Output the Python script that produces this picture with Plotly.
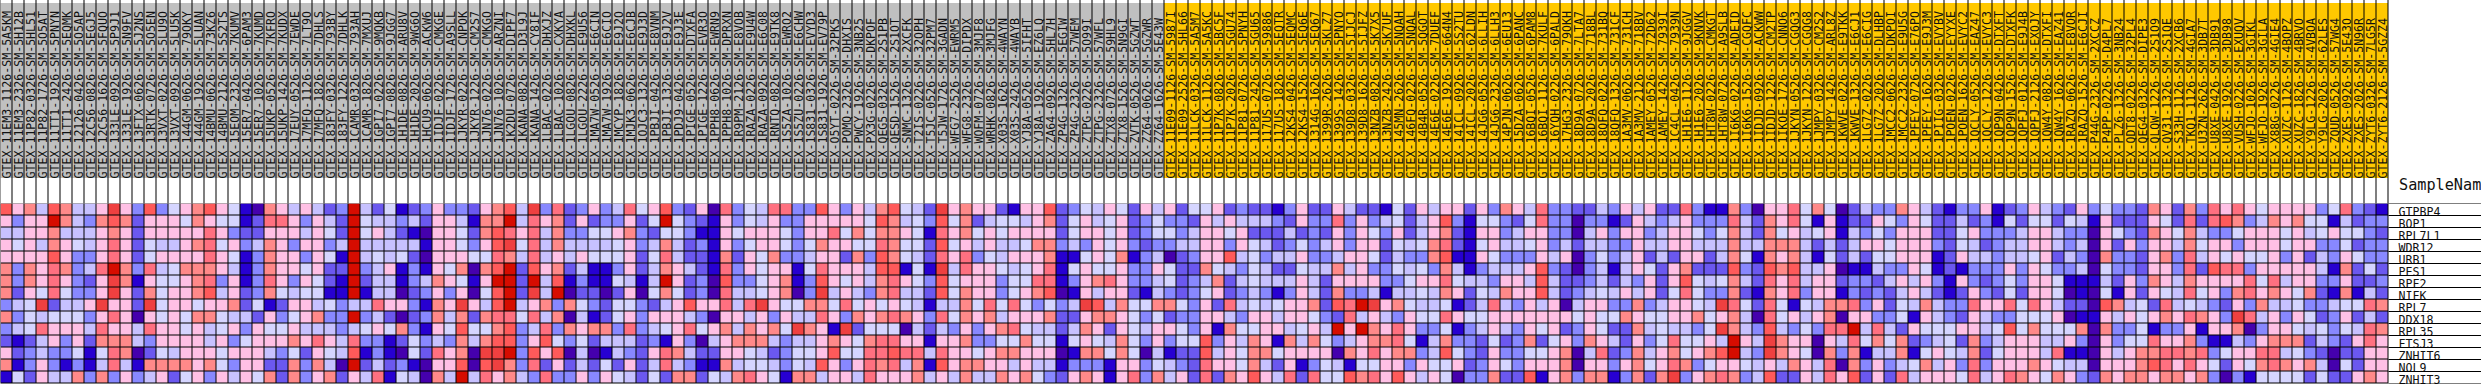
import plotly.graph_objects as go

WIDTH, HEIGHT = 2481, 384

genes = ["GTPBP4","BOP1","RPL7L1","WDR12","URB1","PES1","RPF2","NIFK","RPL7","DDX18","RPL35","FTSJ3","ZNHIT6","NOL9","ZNHIT3"]

samples_control = """GTEX-11EM3-1126-SM-5A5KM GTEX-11EM3-2326-SM-5H12B GTEX-11P82-0326-SM-5HL51 GTEX-11P82-1726-SM-5O5AT GTEX-11TT1-1926-SM-5PNYN GTEX-11TT1-2426-SM-5EQMK GTEX-12126-0426-SM-5O5AP GTEX-12C56-0826-SM-5EGJ5 GTEX-12C56-1626-SM-5FQUO GTEX-133LE-0926-SM-5P9J1 GTEX-133LE-1926-SM-5N9FV GTEX-13FTX-0626-SM-5J2NS GTEX-13RTK-0726-SM-5O5EN GTEX-13VXT-0226-SM-5LU9O GTEX-13VXT-0926-SM-5LU5K GTEX-144GM-0626-SM-79OKY GTEX-144GM-1926-SM-5LUAN GTEX-14BMU-0626-SM-73KZ6 GTEX-14BMU-2126-SM-5S2TS GTEX-15EOM-2326-SM-7KUMV GTEX-15ER7-0426-SM-6PAM3 GTEX-15ER7-1026-SM-7KUMD GTEX-15UKP-0526-SM-7KFRO GTEX-15UKP-1426-SM-7KUDX GTEX-17EUY-0526-SM-7EWDE GTEX-17MFQ-1126-SM-7LT9O GTEX-17MFQ-1826-SM-7DHLS GTEX-183FY-0326-SM-793BY GTEX-183FY-1226-SM-7DHLK GTEX-1CAMR-0326-SM-793AH GTEX-1CAMR-1826-SM-7MXUJ GTEX-1GPI7-0226-SM-9MQKB GTEX-1GPI7-0826-SM-9JGG7 GTEX-1H1DE-0826-SM-ARU8V GTEX-1H1DE-2026-SM-9WG6O
GTEX-1HCU9-0626-SM-ACKW6 GTEX-1IDJF-0226-SM-CMKGE GTEX-1IDJF-1726-SM-A9SLL GTEX-1JKYR-0226-SM-CNPOK GTEX-1JKYR-1226-SM-CM2S7 GTEX-1JN76-0226-SM-CMKGO GTEX-1JN76-1026-SM-ARZNI GTEX-1K2DU-0726-SM-DIPF7 GTEX-1KANA-0826-SM-D3L9J GTEX-1KANA-1426-SM-CY8IF GTEX-1LBAC-0226-SM-DHXJZ GTEX-1LBAC-1026-SM-CXKYA GTEX-1LGOU-0826-SM-DHXKL GTEX-1LGOU-2226-SM-E9U56 GTEX-1MA7W-0526-SM-E6CIN GTEX-1MA7W-1926-SM-E6CIO GTEX-1MCYP-1826-SM-E9J2O GTEX-1MJK3-0626-SM-E6CJB GTEX-1OJC3-1326-SM-E9J3D GTEX-1PBJI-0426-SM-E8VNM GTEX-1PBJI-1326-SM-E9J2V GTEX-1PDJ9-0426-SM-E9J3E GTEX-1PIGE-0526-SM-DTXFA GTEX-1PIGE-1226-SM-EVR3O GTEX-1PPH8-0626-SM-EWRN9 GTEX-1PPH8-1026-SM-DPRXN GTEX-1R9PM-2126-SM-E8VOB GTEX-1RAZA-0226-SM-E9U4W GTEX-1RAZA-0926-SM-E6C08 GTEX-1RNTQ-0826-SM-E9TK8 GTEX-1S5ZA-1026-SM-EWRO2 GTEX-1S5ZU-0226-SM-E6CHW GTEX-1S831-0326-SM-EVYD3 GTEX-1S831-1926-SM-EV79P GTEX-O5YT-0226-SM-32PK5
GTEX-POMQ-2326-SM-DHXIS GTEX-PWCY-1926-SM-3NB25 GTEX-PX3G-0226-SM-DKPOF GTEX-QEG5-0326-SM-2S1PB GTEX-QESD-1526-SM-2S1OT GTEX-SNMC-1326-SM-2XCFK GTEX-T2IS-0226-SM-32OPH GTEX-T5JC-0526-SM-32PM7 GTEX-T5JW-1726-SM-3GADN GTEX-WFG7-2526-SM-EWRM5 GTEX-WFG8-2326-SM-DIPDX GTEX-WOFM-0726-SM-3MJF8 GTEX-WRHK-0826-SM-3MJFG GTEX-X03S-1626-SM-4WAYN GTEX-X03S-2426-SM-4WAYB GTEX-YJ8A-0526-SM-5IFHT GTEX-YJ8A-1926-SM-EZ6LQ GTEX-ZA64-0926-SM-5HL7H GTEX-ZP4G-1326-SM-5EGIW GTEX-ZP4G-2326-SM-57WEM GTEX-ZTPG-0226-SM-5O99I GTEX-ZTPG-2326-SM-57WFL GTEX-ZTX8-0726-SM-59HL9 GTEX-ZTX8-1526-SM-5N9GI GTEX-ZVTK-0526-SM-5GZWT GTEX-ZZ64-0626-SM-5GZWR GTEX-ZZ64-1626-SM-5E43W""".split()

samples_case = """GTEX-11E09-1126-SM-5987I GTEX-11E09-2526-SM-5HL66 GTEX-11LCK-0326-SM-5A5M7 GTEX-11LCK-1126-SM-5A5KC GTEX-11P7K-0826-SM-5BC5F GTEX-11P7K-2026-SM-5GU74 GTEX-11P81-0726-SM-5PNYH GTEX-11P81-2426-SM-5GU65
GTEX-117US-0726-SM-59886 GTEX-117US-1826-SM-5EQTR GTEX-12KS4-0426-SM-5EQMC GTEX-12KS4-1526-SM-5EQ6E GTEX-1314G-1626-SM-5EQ67 GTEX-1399R-2626-SM-5KLZ7 GTEX-1399S-1426-SM-5PNYO GTEX-139D8-0326-SM-5IJCJ GTEX-139D8-1626-SM-5IJFZ GTEX-13NZB-0826-SM-5K7X5 GTEX-13NZB-2426-SM-5K7UF GTEX-145MN-2626-SM-5NQAH GTEX-146FQ-0226-SM-5NQAL GTEX-14B4R-0526-SM-5QGOT GTEX-14E6E-0226-SM-7DUEF GTEX-14E6E-1926-SM-664N4 GTEX-14ICL-0926-SM-5S2TU GTEX-14ICL-2026-SM-62LDN GTEX-14JG6-0526-SM-6LLIH GTEX-14JG6-2326-SM-6LLH3 GTEX-14PJN-0626-SM-6EU13 GTEX-15DZA-0626-SM-6PANC GTEX-16BQI-0526-SM-6PAM8 GTEX-16BQI-1126-SM-7KULF GTEX-16YQH-0226-SM-6PALD GTEX-17HG3-2326-SM-79OKH GTEX-18D9A-0726-SM-7LTA7 GTEX-18D9A-2026-SM-718BL GTEX-18QFQ-0226-SM-731BQ GTEX-18QFQ-1326-SM-731CF GTEX-1A3MV-0626-SM-731CH GTEX-1A3MV-2126-SM-718BV GTEX-1AMEY-0526-SM-72D62 GTEX-1AMEY-1426-SM-7939I GTEX-1C4CL-0426-SM-7939N
GTEX-1H1E6-1126-SM-9JGGV GTEX-1H1E6-2026-SM-9KNVK GTEX-1HT8W-0226-SM-CMKGT GTEX-1HT8W-0726-SM-A9SLB GTEX-1I6K6-0226-SM-ADEID GTEX-1I6K6-1526-SM-CGQFC GTEX-1IDJD-0926-SM-ACKWW GTEX-1IDJD-1226-SM-CM2TP GTEX-1IKOE-1726-SM-CNNO6 GTEX-1JKYN-0526-SM-CGQG3 GTEX-1JKYN-1226-SM-CGQG8 GTEX-1JMPY-0326-SM-CM2S2 GTEX-1JMPY-1426-SM-ARL8Z GTEX-1KWVE-0226-SM-E9TKK GTEX-1KWVE-1326-SM-E6CJ1 GTEX-1LG7Z-0226-SM-E6CIG GTEX-1LG7Z-2026-SM-DLHBP GTEX-1MCC2-0626-SM-DKPOI GTEX-1MCC2-2326-SM-E9U5G GTEX-1PFEY-0726-SM-E76PO GTEX-1PFEY-1626-SM-E9J3M GTEX-1PIIG-0326-SM-EVYBV GTEX-1POEN-0226-SM-EYYXE GTEX-1POEN-1626-SM-EVYC2 GTEX-1QCLY-0526-SM-EAZ47 GTEX-1QCLY-1226-SM-EVYC3 GTEX-1QP9N-0426-SM-DTXFT GTEX-1QP9N-1526-SM-DTXFK GTEX-1QPFJ-0126-SM-E9J4B GTEX-1QPFJ-2126-SM-EXOJY GTEX-1QW4Y-0826-SM-DTXFI GTEX-1QW4Y-1626-SM-EAZ41 GTEX-1RAZQ-0626-SM-E8VOR GTEX-1RAZQ-1526-SM-E6CJI GTEX-P44G-2326-SM-2XCCZ
GTEX-P4PP-0226-SM-D4PL7 GTEX-PLZ6-1326-SM-3NB24 GTEX-QDT8-0226-SM-32PL4 GTEX-QEG4-0326-SM-DIPE3 GTEX-QLQW-1226-SM-2S1O9 GTEX-QV31-1326-SM-2S1QE GTEX-S33H-1126-SM-2XCB6 GTEX-TKQ1-1126-SM-4GIA7 GTEX-U3ZN-2626-SM-3DB7T GTEX-U8XE-0426-SM-3DB91 GTEX-U8XE-1926-SM-3DB98 GTEX-VUSH-0226-SM-EXUQV GTEX-WFJO-1026-SM-3GIKL GTEX-WFJO-1926-SM-3GILA GTEX-X88G-0226-SM-4GIE4 GTEX-XUZC-1126-SM-4BOPZ GTEX-XUZC-1826-SM-4BRVO GTEX-Y9LG-1226-SM-4VBOA GTEX-Y9LG-2026-SM-62LES GTEX-ZQUD-0526-SM-57WG4 GTEX-ZXES-0926-SM-5E43O GTEX-ZXES-2026-SM-5N96R GTEX-ZYT6-0326-SM-7LG5R GTEX-ZYT6-2126-SM-5GZZ4""".split()

# Expression level per cell, one hexadecimal-style digit per sample (0 = lowest, b = highest)
GTPBP4 = "9674974 46a6393 5679651 0764642 3b42512  3633267 94a3823 6348569 3260835 4883396  3647954 2a67662 1669235 4652646 2556232  2136226 4221526 4662637 6483322 4364622  8311730 6685750 2433764 2133612 3643263  533276 273868 656666 358321"
BOP1   = "6366b74 3797266 6576551 2886364 2b54434  2664177 b486726 233625b 5321635 4633666  6659745 3957245 5467256 4562353 3264644  4326338 3634524 6931553 2583303 3126434  6333842 7685161 2265365 2242315 2552541  622265 282897 347675 514233"
RPL7L1 = "4466744 4676266 6668632 2666465 2b56421  0665279 8684733 5567325 5311656 6653668  5757765 1867565 6666256 6562355 3466562  2242326 3653624 6721663 4663304 6366346  6535742 7564561 4353666 2256333 4664330  653276 574335 666564 565532"
WDR12  = "6564765 4686254 4678563 4763663 4b44444  1665369 a584744 4456347 4231635 6653576  6558755 2956464 4577343 6563233 4466365  4235346 3662545 7821564 4563424 4336446  6444744 7774242 4665666 3254234 4664340  626366 475663 666566 335233"
URB1   = "6666963 3686256 6668651 3766365 1b45452  0666558 7484646 5556258 4221726 5733466  2739754 2868354 6667115 6571340 2366945  3446334 6652433 7911653 3364603 5346242  6624751 7674152 4255666 1264434 4562430  733267 384656 556362 436533"
PES1   = "7376873 48b7384 5777641 3766562 2b34613  1657079 b296724 1136247 6421836 5661586  6649915 1a48665 4568156 5563365 2275435  4225447 4633545 3741344 4693203 4146526  7222932 9794460 1143365 1213336 3653340  533266 382988 366666 417252"
RPF2   = "7376863 26a7165 5678361 3863652 1b24413  476516b b2b4913 115414b 6230933 5671396  5647865 3956663 5588136 7863345 2347245  4446426 6663356 6854436 6494223 4243626  9545742 8684662 3324646 3163235 3665111  426376 476666 858466 336223"
NIFK   = "7265853 36a6275 6679462 3754551 1b14402  3636059 b2a4b02 2026057 5230844 56703a4  6437844 2957663 5679016 4662143 2356234  3136427 3341445 4762547 6694234 5464625  8533721 7683661 3232464 2126325 2665010  516265 485637 867657 217142"
RPL7   = "345a244 6a662a5 6656672 5126645 3448663  176a649 b467375 3255324 6966848 a655775  8565654 1447585 853534a 9475577 5362845  4566729 8ba6754 4512484 3646046 6337346  654a852 8515477 8362547 4338668 5864220  974528 454326 374453 345587"
DDX18  = "7354555 3686065 6577544 2635673 3b34202  3747278 8584704 1256366 6430664 6364486  3767876 3857674 6667226 7765352 3366436  6466532 8464365 5865566 6666656 5576556  6756740 8564670 6633516 4326433 5556011  646567 68763a 846365 236242"
RPL35  = "3458666 4866486 6564563 6556444 3456573  1659557 9348376 7738345 6856747 675a761  a255504 2436367 8544247 6265466 5361755  664564b 6b76863 3513464 3656236 5227454  435a743 9435388 b484265 5566459 5755570  733513 361667 036654 535487"
FTSJ3  = "2124636 2777436 6664635 6667686 4833125  3437479 9369535 2444231 6304677 7434467  6578866 1667335 5755156 5475363 5593647  6174753 4677851 4733252 3725637 6426358  5564b64 a766064 8575723 4527346 6644630  635586 673114 367772 432686"
ZNHIT6 = "6234335 1587025 4666566 6435265 4913105  28670aa b396904 0143268 7422665 4235569  5588988 4866567 7666017 7575041 2294657  7566660 7686773 4953263 3556704 8237467  5679b43 a765073 7144715 6547256 6648110  646778 878356 688453 202266"
NOL9   = "7136313 1484177 7767536 6227374 0b24231  066909a 7382624 2526248 4311745 5435496  3687847 1967766 4644133 3166354 3286657  4261354 1556636 5562365 3666706 6367568  7356654 6476480 7363457 4638366 6765440  666798 686526 578767 405266"
ZNHIT3 = "1526447 3736346 2563646 5727367 2648154  074b486 7438336 3654252 7725478 6517746  6486667 4647447 6753267 6168374 6282769  6482855 9786964 6503372 2916737 713727a  3678734 9226486 9262846 6658468 7657632  767767 767303 155552 522676"

rows = [GTPBP4, BOP1, RPL7L1, WDR12, URB1, PES1, RPF2, NIFK, RPL7, DDX18, RPL35, FTSJ3, ZNHIT6, NOL9, ZNHIT3]

level_colors = ["#4500AD", "#2700D1", "#6B58EF", "#8888FF", "#C7C1FF", "#D5D5FF",
                "#FFC0E5", "#FF8989", "#FF7080", "#FF5A5A", "#EF4040", "#D60C00"]

GROUP_COLORS = ["#FFFFFF", "#C0C0C0", "#FFC800"]

samples = samples_control + samples_case
z = [[int(ch, 16) for ch in r.replace(" ", "")] for r in rows]
for g, r in zip(genes, z):
    assert len(r) == len(samples), (g, len(r), len(samples))
n_col, n_row = len(samples), len(genes)
cols = list(range(n_col))
ridx = list(range(n_row))

CELL = 12
GRID_L = 0.5                  # left edge of the grid, px: puts each 1 px gap on a whole pixel
GRID_R = GRID_L + n_col * CELL
MAIN_TOP = 203.5
MAIN_BOT = MAIN_TOP + n_row * CELL
BAND_TOP, BAND_BOT = 3, 178

scale = [[i / (len(level_colors) - 1), c] for i, c in enumerate(level_colors)]
band_scale = [[0, GROUP_COLORS[0]], [0.5, GROUP_COLORS[1]], [1, GROUP_COLORS[2]]]
group_row = [1] * len(samples_control) + [2] * len(samples_case)
band_z = [[0] * n_col, group_row, [0] * n_col]

fig = go.Figure()
# the sample band sits on the first subplot so that the tick labels of the second one draw above it
fig.add_trace(go.Heatmap(z=band_z, x=cols, y=[0, BAND_TOP, BAND_BOT, MAIN_TOP], xaxis="x", yaxis="y",
                         colorscale=band_scale, zmin=0, zmax=2, showscale=False, xgap=1, ygap=0, hoverinfo="skip"))
fig.add_trace(go.Heatmap(z=z, x=cols, y=ridx, xaxis="x2", yaxis="y2", colorscale=scale, zmin=0, zmax=11,
                         showscale=False, xgap=1, ygap=1,
                         customdata=[[s for s in samples] for _ in genes], hovertemplate="%{customdata}<br>%{y}: %{z}<extra></extra>"))

mono = "DejaVu Sans Mono"
x_domain = [GRID_L / WIDTH, GRID_R / WIDTH]
fig.update_layout(
    template="none",
    width=WIDTH, height=HEIGHT, autosize=False, margin=dict(l=0, r=0, t=0, b=0, pad=0),
    paper_bgcolor="white", plot_bgcolor="black", showlegend=False,
    xaxis2=dict(domain=x_domain, range=[-0.5, n_col - 0.5], anchor="free", automargin=False,
                position=(HEIGHT - BAND_BOT - 0.5) / HEIGHT, side="top", tickmode="array", tickvals=cols, ticktext=samples,
                tickangle=-90, ticks="", showgrid=False, zeroline=False, showline=False, ticklabeloverflow="allow",
                ticklabelshift=1, tickfont=dict(family=mono, size=11.6, color="#111111"), ticklabelstandoff=0),
    yaxis2=dict(domain=[(HEIGHT - MAIN_BOT) / HEIGHT, (HEIGHT - MAIN_TOP) / HEIGHT], range=[n_row - 0.5, -0.5],
                side="right", anchor="x2", tickmode="array", tickvals=ridx, ticktext=genes, ticks="", automargin=False,
                showgrid=False, zeroline=False, showline=False, ticklabelstandoff=9, ticklabelshift=-2,
                ticklabeloverflow="allow", tickfont=dict(family=mono, size=11.6, color="#111111")),
    xaxis=dict(domain=x_domain, range=[-0.5, n_col - 0.5], anchor="y", visible=False, automargin=False),
    yaxis=dict(domain=[(HEIGHT - MAIN_TOP) / HEIGHT, 1], range=[MAIN_TOP, 0], anchor="x", visible=False, automargin=False),
    shapes=[dict(type="line", xref="paper", yref="y2", x0=GRID_R / WIDTH, x1=1, y0=i - 0.5, y1=i - 0.5,
                 line=dict(color="black", width=1)) for i in range(n_row + 1)],
    annotations=[dict(text="SampleName", xref="paper", yref="paper", x=2397 / WIDTH, y=(HEIGHT - 185) / HEIGHT,
                      xanchor="left", yanchor="middle", showarrow=False, font=dict(family=mono, size=15.2, color="#111111"))],
)

fig.write_html("out.html", config={"displayModeBar": False},
               post_script="document.body.style.margin='0';document.body.style.overflow='hidden';")
